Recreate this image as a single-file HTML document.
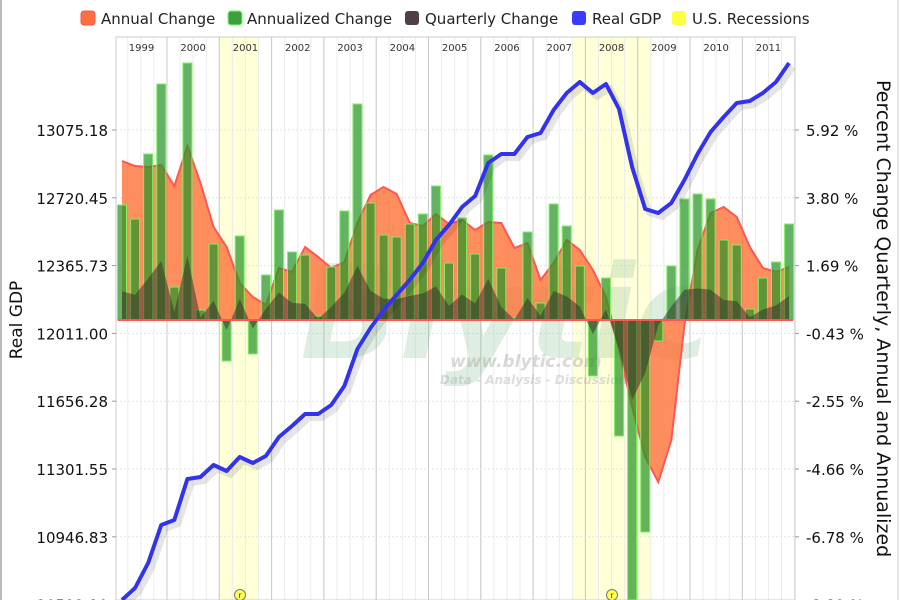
<!DOCTYPE html>
<html><head><meta charset="utf-8"><style>
html,body{margin:0;padding:0;background:#fff;width:900px;height:600px;overflow:hidden;}
svg{display:block;font-family:"DejaVu Sans","Liberation Sans",sans-serif;}
</style></head><body>
<svg id="s" width="900" height="600" viewBox="0 0 900 600" xmlns="http://www.w3.org/2000/svg" overflow="hidden">
<rect x="0" y="0" width="900" height="600" fill="#fff"/>
<line x1="1" y1="0" x2="1" y2="600" stroke="#bbb" stroke-width="2"/>
<line x1="898" y1="0" x2="898" y2="600" stroke="#ccc" stroke-width="1"/>
<g id="bg"></g>
<g id="main"></g>
<g font-size="15" fill="#222">
<rect x="81" y="11" width="14" height="14" rx="3" fill="#ff7040" stroke="#ff5050"/>
<text x="101" y="24">Annual Change</text>
<rect x="228" y="11" width="14" height="14" rx="3" fill="#3f9f3f" stroke="#6f6"/>
<text x="247" y="24">Annualized Change</text>
<rect x="405" y="11" width="14" height="14" rx="3" fill="#4f3f48"/>
<text x="425" y="24">Quarterly Change</text>
<rect x="572" y="11" width="14" height="14" rx="3" fill="#3b3bff"/>
<text x="592" y="24">Real GDP</text>
<rect x="672" y="11" width="14" height="14" rx="3" fill="#ffff40"/>
<text x="692" y="24">U.S. Recessions</text>
</g>
</svg>
<script>
var NS="http://www.w3.org/2000/svg";
function el(p,t,a,txt){var e=document.createElementNS(NS,t);for(var k in a)e.setAttribute(k,a[k]);if(txt!==undefined)e.textContent=txt;p.appendChild(e);return e;}
var bg=document.getElementById('bg'),m=document.getElementById('main');
var L=116,R=795,T=37,B=600,Y0=320;
el(bg,'rect',{x:220,y:T,width:39,height:B-T,fill:'#ffffd8'});
el(bg,'rect',{x:572,y:T,width:80,height:B-T,fill:'#ffffd8'});
for(var q=0;q<60;q++){var x=167-52.3+q*13.075;if(x>L&&x<R)el(bg,'line',{x1:x,y1:T,x2:x,y2:B,stroke:'#ececec','stroke-width':1});}
var years=[1999,2000,2001,2002,2003,2004,2005,2006,2007,2008,2009,2010,2011];
for(var i=0;i<13;i++){var y=years[i];var xs=167+(y-2000)*52.3;if(xs>L)el(bg,'line',{x1:xs,y1:T,x2:xs,y2:B,stroke:'#c8c8c8','stroke-width':1});
var cx=Math.max(xs,L)+ (y==1999?(167-L)/2:26.15);el(bg,'text',{x:cx,y:51,'font-size':10,'text-anchor':'middle',fill:'#333'},String(y));}
el(bg,'rect',{x:L,y:T,width:R-L,height:B-T,fill:'none',stroke:'#ccc'});
var lt=['13075.18','12720.45','12365.73','12011.00','11656.28','11301.55','10946.83','10592.10'];
var rt=['5.92 %','3.80 %','1.69 %','-0.43 %','-2.55 %','-4.66 %','-6.78 %','-8.89 %'];
for(var i=0;i<8;i++){var y=130+i*67.8;
el(bg,'line',{x1:L,y1:y,x2:R,y2:y,stroke:'#e4e4e4','stroke-dasharray':'2,2'});
el(bg,'line',{x1:112,y1:y,x2:L,y2:y,stroke:'#999'});el(bg,'line',{x1:R,y1:y,x2:R+4,y2:y,stroke:'#999'});
el(bg,'text',{x:108,y:y+6,'font-size':15,'text-anchor':'end',fill:'#111'},lt[i]);
el(bg,'text',{x:806,y:y+6,'font-size':15,fill:'#111'},rt[i]);}
el(bg,'text',{x:0,y:0,'font-size':17,fill:'#111',transform:'translate(22,320) rotate(-90)','text-anchor':'middle'},'Real GDP');
el(bg,'text',{x:0,y:0,'font-size':19,fill:'#111',transform:'translate(877,80) rotate(90)'},'Percent Change Quarterly, Annual and Annualized');
el(bg,'text',{x:300,y:358,'font-size':130,'font-weight':'bold','font-style':'italic',fill:'rgba(150,200,160,0.3)'},'Blytic');
el(bg,'text',{x:450,y:367,'font-size':17,'font-weight':'bold','font-style':'italic',fill:'rgba(160,160,160,0.4)'},'www.blytic.com');
el(bg,'text',{x:440,y:384,'font-size':12,'font-style':'italic','font-weight':'bold',fill:'rgba(170,170,170,0.4)'},'Data - Analysis - Discussion');
function X(i){return 122+i*13.08;}
var bars=[205,219,154,84,287,63,310,244,361,236,354,275,210,252,255,316,267,211,104,203,235,237,224,214,186,263,218,254,155,268,318,232,303,204,226,266,376,278,436,640,532,341,266,199,194,199,240,245,309,278,262,224];
var ann=[161,166,167,165,186,146,183,227,247,283,297,305,268,272,247,257,268,262,223,195,187,194,223,226,214,224,220,230,222,223,248,243,280,263,240,250,270,297,350,407,457,482,440,325,250,213,207,217,247,268,272,267];
var gdp=[600,588,563,525,520,479,477,465,471,457,463,456,437,426,414,414,405,386,349,328,310,295,280,263,240,225,207,196,163,154,154,137,133,110,93,82,93,84,109,167,209,213,203,180,154,132,117,103,101,93,82,63];
var d='M'+X(0)+','+Y0;for(var i=0;i<52;i++)d+=' L'+X(i)+','+ann[i];d+=' L'+X(51)+','+Y0+' Z';
el(m,'path',{d:d,fill:'rgba(255,110,50,0.78)'});
var d2='M'+X(0)+','+ann[0];for(var i=1;i<52;i++)d2+=' L'+X(i)+','+ann[i];
el(m,'path',{d:d2,fill:'none',stroke:'#ff5555','stroke-width':2});
for(var i=0;i<52;i++){var v=Math.min(bars[i],600);var y=Math.min(v,Y0),h=Math.abs(v-Y0);
el(m,'rect',{x:X(i)-4.5,y:y,width:9,height:h,fill:'rgba(40,150,40,0.72)',stroke:'#7fef5f','stroke-width':1});}
var d3='M'+X(0)+','+Y0;for(var i=0;i<52;i++)d3+=' L'+X(i)+','+(Y0+(bars[i]-Y0)/4);d3+=' L'+X(51)+','+Y0+' Z';
el(m,'path',{d:d3,fill:'rgba(50,40,40,0.5)'});
el(m,'line',{x1:X(0)-4,y1:Y0,x2:X(51)+4,y2:Y0,stroke:'#ff5555','stroke-width':2});
var g='M'+X(0)+','+gdp[0];for(var i=1;i<52;i++)g+=' L'+X(i)+','+gdp[i];
el(m,'path',{d:g,fill:'none',stroke:'rgba(0,0,0,0.1)','stroke-width':6,transform:'translate(4,4)','stroke-linejoin':'round'});
el(m,'path',{d:g,fill:'none',stroke:'#3333ee','stroke-width':4,'stroke-linejoin':'round'});
[240,612].forEach(function(x){el(m,'circle',{cx:x,cy:595,r:5.5,fill:'#ffff50',stroke:'#777'});el(m,'text',{x:x,y:598,'font-size':8,'text-anchor':'middle',fill:'#333'},'r');});
</script>
</body></html>
